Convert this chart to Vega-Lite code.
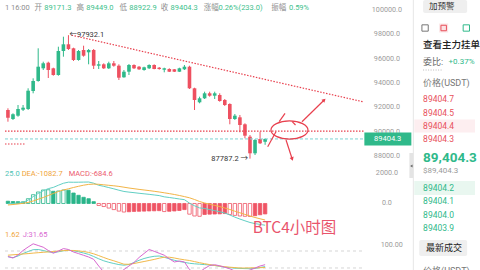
{
"$schema":"https://vega.github.io/schema/vega-lite/v6.json",
"width":480,"height":270,"padding":0,"autosize":{"type":"none"},"background":"#ffffff",
"config":{"view":{"stroke":null},"axis":{"disable":true},"text":{"font":"Roboto, Noto Sans CJK SC, sans-serif"}},
"datasets":{
"k":[
{"i":0,"o":91783,"h":91923,"l":90822,"c":91150,"m":150,"dif":-23,"dea":-98,"kv":60.2,"dv":65.2,"jv":60.2},
{"i":1,"o":91044,"h":91512,"l":90961,"c":91430,"m":130,"dif":-1,"dea":-66,"kv":56.3,"dv":66.6,"jv":55.3},
{"i":2,"o":91315,"h":92194,"l":91232,"c":91865,"m":120,"dif":27,"dea":-33,"kv":62.3,"dv":68.0,"jv":65.9},
{"i":3,"o":91808,"h":92194,"l":91701,"c":91972,"m":110,"dif":68,"dea":13,"kv":71.2,"dv":69.4,"jv":81.8},
{"i":4,"o":91865,"h":93566,"l":91783,"c":93369,"m":315,"dif":223,"dea":66,"kv":78.2,"dv":70.8,"jv":94.1},
{"i":5,"o":93344,"h":94388,"l":93155,"c":94166,"m":577,"dif":452,"dea":164,"kv":84.6,"dv":72.6,"jv":105.4},
{"i":6,"o":94166,"h":96853,"l":94108,"c":95341,"m":754,"dif":659,"dea":282,"kv":85.3,"dv":74.0,"jv":99.4},
{"i":7,"o":95209,"h":95752,"l":95070,"c":95620,"m":885,"dif":835,"dea":393,"kv":81.8,"dv":75.4,"jv":93.4},
{"i":8,"o":95670,"h":95752,"l":94412,"c":95070,"m":900,"dif":975,"dea":525,"kv":77.2,"dv":76.8,"jv":81.8},
{"i":9,"o":95209,"h":95259,"l":94601,"c":94659,"m":800,"dif":1056,"dea":656,"kv":74.3,"dv":78.2,"jv":72.2},
{"i":10,"o":94659,"h":96984,"l":94600,"c":96631,"m":820,"dif":1197,"dea":787,"kv":77.2,"dv":80.0,"jv":80.0},
{"i":11,"o":96631,"h":97806,"l":96163,"c":97182,"m":885,"dif":1327,"dea":885,"kv":80.7,"dv":81.4,"jv":88.5},
{"i":12,"o":97182,"h":97932.1,"l":96713,"c":96795,"m":870,"dif":1399,"dea":964,"kv":82.5,"dv":82.1,"jv":85.3},
{"i":13,"o":96853,"h":96902,"l":95809,"c":95892,"m":688,"dif":1393,"dea":1049,"kv":80.7,"dv":81.8,"jv":76.5},
{"i":14,"o":95892,"h":96713,"l":95834,"c":96631,"m":538,"dif":1397,"dea":1128,"kv":77.2,"dv":80.3,"jv":70.8},
{"i":15,"o":96713,"h":97067,"l":96163,"c":96245,"m":407,"dif":1403,"dea":1200,"kv":72.9,"dv":78.2,"jv":64.8},
{"i":16,"o":96524,"h":96795,"l":95538,"c":96713,"m":315,"dif":1409,"dea":1252,"kv":68.0,"dv":75.0,"jv":58.8},
{"i":17,"o":96713,"h":96795,"l":95152,"c":95423,"m":120,"dif":1332,"dea":1272,"kv":60.6,"dv":70.1,"jv":50.7},
{"i":18,"o":95423,"h":95809,"l":95152,"c":95538,"m":-130,"dif":1194,"dea":1259,"kv":52.5,"dv":63.8,"jv":27.1},
{"i":19,"o":95538,"h":95620,"l":95152,"c":95209,"m":-200,"dif":1126,"dea":1226,"kv":45.4,"dv":57.1,"jv":5.9},
{"i":20,"o":95209,"h":95752,"l":95152,"c":95620,"m":-300,"dif":1043,"dea":1193,"kv":40.1,"dv":50.7,"jv":-4.7},
{"i":21,"o":95620,"h":95809,"l":95341,"c":95423,"m":-400,"dif":961,"dea":1161,"kv":35.9,"dv":45.4,"jv":-8.2},
{"i":22,"o":95423,"h":95538,"l":94248,"c":94437,"m":-500,"dif":871,"dea":1121,"kv":32.0,"dv":39.4,"jv":-1.2},
{"i":23,"o":94470,"h":95070,"l":94437,"c":94930,"m":-560,"dif":789,"dea":1069,"kv":29.9,"dv":33.4,"jv":14.7},
{"i":24,"o":94930,"h":95563,"l":94659,"c":95481,"m":-540,"dif":746,"dea":1016,"kv":32.3,"dv":33.1,"jv":27.1},
{"i":25,"o":95481,"h":95538,"l":95152,"c":95209,"m":-520,"dif":710,"dea":970,"kv":39.4,"dv":35.9,"jv":39.4},
{"i":26,"o":95341,"h":95398,"l":95070,"c":95127,"m":-510,"dif":670,"dea":925,"kv":47.2,"dv":39.4,"jv":57.1},
{"i":27,"o":95070,"h":95341,"l":95012,"c":95292,"m":-500,"dif":635,"dea":885,"kv":53.5,"dv":42.9,"jv":71.2},
{"i":28,"o":95209,"h":95538,"l":95152,"c":95481,"m":-490,"dif":601,"dea":846,"kv":58.1,"dv":46.5,"jv":85.3},
{"i":29,"o":95481,"h":95538,"l":95127,"c":95152,"m":-480,"dif":560,"dea":800,"kv":61.3,"dv":50.3,"jv":78.9},
{"i":30,"o":95259,"h":95316,"l":95094,"c":95152,"m":-470,"dif":519,"dea":754,"kv":62.3,"dv":54.6,"jv":71.9},
{"i":31,"o":95094,"h":95259,"l":94881,"c":95209,"m":-530,"dif":437,"dea":702,"kv":57.8,"dv":58.1,"jv":65.2},
{"i":32,"o":95152,"h":95209,"l":94905,"c":94930,"m":-510,"dif":394,"dea":649,"kv":52.5,"dv":58.1,"jv":52.5},
{"i":33,"o":95127,"h":95152,"l":94905,"c":94930,"m":-490,"dif":345,"dea":590,"kv":47.2,"dv":55.3,"jv":41.2},
{"i":34,"o":94930,"h":95259,"l":94905,"c":95209,"m":-460,"dif":295,"dea":525,"kv":42.9,"dv":51.8,"jv":44.7},
{"i":35,"o":95127,"h":95481,"l":95070,"c":95341,"m":-400,"dif":252,"dea":452,"kv":39.8,"dv":48.9,"jv":41.2},
{"i":36,"o":95341,"h":95423,"l":93509,"c":93566,"m":-700,"dif":24,"dea":374,"kv":36.6,"dv":46.5,"jv":14.7},
{"i":37,"o":93566,"h":93615,"l":91783,"c":92605,"m":-820,"dif":-148,"dea":262,"kv":34.8,"dv":42.6,"jv":2.4},
{"i":38,"o":92416,"h":92876,"l":92333,"c":92745,"m":-840,"dif":-289,"dea":131,"kv":33.4,"dv":38.7,"jv":5.9},
{"i":39,"o":92745,"h":93287,"l":92687,"c":93155,"m":-720,"dif":-327,"dea":33,"kv":32.0,"dv":35.2,"jv":18.2},
{"i":40,"o":93155,"h":93287,"l":92876,"c":92958,"m":-700,"dif":-396,"dea":-46,"kv":30.6,"dv":32.0,"jv":28.8},
{"i":41,"o":92958,"h":93287,"l":92687,"c":93155,"m":-690,"dif":-470,"dea":-125,"kv":28.8,"dv":28.8,"jv":31.6},
{"i":42,"o":93015,"h":93155,"l":92465,"c":92522,"m":-680,"dif":-543,"dea":-203,"kv":26.0,"dv":26.7,"jv":27.8},
{"i":43,"o":92605,"h":92687,"l":92112,"c":92194,"m":-660,"dif":-625,"dea":-295,"kv":22.8,"dv":24.6,"jv":22.5},
{"i":44,"o":92276,"h":92333,"l":90608,"c":91044,"m":-720,"dif":-753,"dea":-393,"kv":21.1,"dv":22.8,"jv":17.2},
{"i":45,"o":91044,"h":91454,"l":90961,"c":91315,"m":-780,"dif":-895,"dea":-505,"kv":19.3,"dv":21.4,"jv":9.4},
{"i":46,"o":91183,"h":91372,"l":89951,"c":90551,"m":-820,"dif":-1020,"dea":-610,"kv":18.6,"dv":20.0,"jv":5.9},
{"i":47,"o":90608,"h":90690,"l":89458,"c":89671,"m":-840,"dif":-1135,"dea":-715,"kv":17.9,"dv":20.0,"jv":7.6},
{"i":48,"o":89589,"h":89729,"l":87787.2,"c":88225,"m":-850,"dif":-1245,"dea":-820,"kv":17.5,"dv":20.4,"jv":12.9},
{"i":49,"o":88225,"h":89400,"l":88085,"c":89318,"m":-800,"dif":-1318,"dea":-918,"kv":18.2,"dv":20.7,"jv":20.0},
{"i":50,"o":89400,"h":90000,"l":88989,"c":89047,"m":-740,"dif":-1373,"dea":-1003,"kv":21.8,"dv":21.1,"jv":27.1},
{"i":51,"o":89171.3,"h":89449,"l":88922.9,"c":89404.3,"m":-684.6,"dif":-1425,"dea":-1082.7,"kv":25.0,"dv":21.62,"jv":31.65}
],
"pt":[{"v":100000},{"v":98000},{"v":96000},{"v":94000},{"v":92000},{"v":90000},{"v":88000}],
"trend":[{"i":12.62,"p":97932.1},{"i":70.6,"p":92440}],
"strokes":[
{"i":58.31,"p":90822,"i2":62.72,"p2":92605,"head":true},
{"i":53.79,"p":90822,"i2":54.95,"p2":91512,"head":false},
{"i":53.15,"p":90000,"i2":51.51,"p2":88767,"head":false},
{"i":55.15,"p":89318,"i2":56.37,"p2":87757,"head":true},
{"i":56.37,"p":90822,"i2":57.03,"p2":90550,"head":false}
]
},
"resolve":{"scale":{"y":"independent"}},
"layer":[
{"layer":[
{"data":{"name":"k"},"mark":{"type":"rule","strokeWidth":1},"encoding":{"x":{"field":"i","type":"quantitative","scale":{"domain":[-0.583,92.621],"nice":false,"zero":false},"axis":null},"y":{"field":"l","type":"quantitative","scale":{"domain":[78636,100822],"nice":false,"zero":false},"axis":null},"y2":{"field":"h"},"color":{"condition":{"test":"datum.c >= datum.o","value":"#2fb98a"},"value":"#ee5060"}}},
{"data":{"name":"k"},"mark":{"type":"bar","width":3.6},"encoding":{"x":{"field":"i","type":"quantitative","scale":{"domain":[-0.583,92.621],"nice":false,"zero":false},"axis":null},"y":{"field":"o","type":"quantitative","scale":{"domain":[78636,100822],"nice":false,"zero":false},"axis":null},"y2":{"field":"c"},"color":{"condition":{"test":"datum.c >= datum.o","value":"#2fb98a"},"value":"#ee5060"}}},
{"data":{"values":[{}]},"mark":{"type":"rule","color":"#e8404e","strokeWidth":1.2,"strokeDash":[1.5,1.5]},"encoding":{"x":{"datum":-0.583,"type":"quantitative","scale":{"domain":[-0.583,92.621],"nice":false,"zero":false},"axis":null},"x2":{"datum":70.68},"y":{"datum":90050,"type":"quantitative","scale":{"domain":[78636,100822],"nice":false,"zero":false},"axis":null}}},
{"data":{"values":[{}]},"mark":{"type":"rule","color":"#e8404e","strokeWidth":1.2,"strokeDash":[1.5,1.5]},"encoding":{"x":{"datum":-0.583,"type":"quantitative","scale":{"domain":[-0.583,92.621],"nice":false,"zero":false},"axis":null},"x2":{"datum":3.3},"y":{"datum":88989,"type":"quantitative","scale":{"domain":[78636,100822],"nice":false,"zero":false},"axis":null}}},
{"data":{"name":"trend"},"mark":{"type":"line","color":"#e8404e","strokeWidth":1.2,"strokeDash":[1.5,1.5]},"encoding":{"x":{"field":"i","type":"quantitative","scale":{"domain":[-0.583,92.621],"nice":false,"zero":false},"axis":null},"y":{"field":"p","type":"quantitative","scale":{"domain":[78636,100822],"nice":false,"zero":false},"axis":null}}},
{"data":{"values":[{}]},"mark":{"type":"rule","color":"#7ed3d3","strokeWidth":1,"strokeDash":[3,2]},"encoding":{"x":{"datum":-0.583,"type":"quantitative","scale":{"domain":[-0.583,92.621],"nice":false,"zero":false},"axis":null},"x2":{"datum":70.68},"y":{"datum":89404.3,"type":"quantitative","scale":{"domain":[78636,100822],"nice":false,"zero":false},"axis":null}}},
{"data":{"name":"pt"},"mark":{"type":"text","align":"center","baseline":"middle","fontSize":7.2,"color":"#9b9b9b"},"encoding":{"x":{"datum":75.15,"type":"quantitative","scale":{"domain":[-0.583,92.621],"nice":false,"zero":false},"axis":null},"y":{"field":"v","type":"quantitative","scale":{"domain":[78636,100822],"nice":false,"zero":false},"axis":null},"text":{"field":"v","format":".1f"}}},
{"data":{"name":"k"},"transform":[{"filter":"datum.i == 51"}],"mark":{"type":"rule","strokeWidth":13,"strokeCap":"butt","color":"#2fb98a"},"encoding":{"x":{"datum":70.68,"type":"quantitative","scale":{"domain":[-0.583,92.621],"nice":false,"zero":false},"axis":null},"x2":{"datum":80.0},"y":{"field":"c","type":"quantitative","scale":{"domain":[78636,100822],"nice":false,"zero":false},"axis":null}}},
{"data":{"name":"k"},"transform":[{"filter":"datum.i == 51"}],"mark":{"type":"text","align":"center","baseline":"middle","fontSize":7.5,"color":"#ffffff"},"encoding":{"x":{"datum":75.3,"type":"quantitative","scale":{"domain":[-0.583,92.621],"nice":false,"zero":false},"axis":null},"y":{"field":"c","type":"quantitative","scale":{"domain":[78636,100822],"nice":false,"zero":false},"axis":null},"text":{"field":"c","format":".1f"}}},
{"data":{"name":"k"},"transform":[{"joinaggregate":[{"op":"max","field":"h","as":"hm"}]},{"filter":"datum.h == datum.hm"},{"calculate":"'←' + format(datum.h, '.1f')","as":"lab"}],"mark":{"type":"text","align":"left","baseline":"middle","dx":1,"fontSize":7.5,"color":"#333333"},"encoding":{"x":{"field":"i","type":"quantitative","scale":{"domain":[-0.583,92.621],"nice":false,"zero":false},"axis":null},"y":{"field":"h","type":"quantitative","scale":{"domain":[78636,100822],"nice":false,"zero":false},"axis":null},"text":{"field":"lab"}}},
{"data":{"name":"k"},"transform":[{"joinaggregate":[{"op":"min","field":"l","as":"lm"}]},{"filter":"datum.l == datum.lm"},{"calculate":"format(datum.l, '.1f') + ' →'","as":"lab"}],"mark":{"type":"text","align":"right","baseline":"middle","dx":-2,"fontSize":7.5,"color":"#333333"},"encoding":{"x":{"field":"i","type":"quantitative","scale":{"domain":[-0.583,92.621],"nice":false,"zero":false},"axis":null},"y":{"field":"l","type":"quantitative","scale":{"domain":[78636,100822],"nice":false,"zero":false},"axis":null},"text":{"field":"lab"}}},
{"data":{"name":"strokes"},"mark":{"type":"rule","color":"#e8404e","strokeWidth":1.2},"encoding":{"x":{"field":"i","type":"quantitative","scale":{"domain":[-0.583,92.621],"nice":false,"zero":false},"axis":null},"y":{"field":"p","type":"quantitative","scale":{"domain":[78636,100822],"nice":false,"zero":false},"axis":null},"x2":{"field":"i2"},"y2":{"field":"p2"}}},
{"data":{"name":"strokes"},"transform":[{"filter":"datum.head"},{"calculate":"atan2((datum.i2-datum.i)*5.15, (datum.p2-datum.p)/82.17)*180/PI","as":"ang"}],"mark":{"type":"point","shape":"triangle-up","filled":true,"size":18,"color":"#e8404e","opacity":1},"encoding":{"x":{"field":"i2","type":"quantitative","scale":{"domain":[-0.583,92.621],"nice":false,"zero":false},"axis":null},"y":{"field":"p2","type":"quantitative","scale":{"domain":[78636,100822],"nice":false,"zero":false},"axis":null},"angle":{"field":"ang","type":"quantitative","scale":null}}},
{"data":{"values":[{}]},"mark":{"type":"point","shape":"M-1,0A1,0.49,0,1,0,1,0A1,0.49,0,1,0,-1,0Z","size":1369,"filled":false,"stroke":"#e8404e","strokeWidth":1.2,"opacity":1},"encoding":{"x":{"datum":55.83,"type":"quantitative","scale":{"domain":[-0.583,92.621],"nice":false,"zero":false},"axis":null},"y":{"datum":90140,"type":"quantitative","scale":{"domain":[78636,100822],"nice":false,"zero":false},"axis":null}}},
{"data":{"values":[{}]},"mark":{"type":"text","align":"left","baseline":"middle","fontSize":7.5,"color":"#8e8e8e"},"encoding":{"x":{"datum":-0.583,"type":"quantitative","scale":{"domain":[-0.583,92.621],"nice":false,"zero":false},"axis":null},"y":{"datum":100164,"type":"quantitative","scale":{"domain":[78636,100822],"nice":false,"zero":false},"axis":null},"text":{"value":"1 16:00"}}},
{"data":{"values":[{}]},"mark":{"type":"text","align":"left","baseline":"middle","fontSize":7.5,"color":"#8e8e8e"},"encoding":{"x":{"datum":5.243,"type":"quantitative","scale":{"domain":[-0.583,92.621],"nice":false,"zero":false},"axis":null},"y":{"datum":100164,"type":"quantitative","scale":{"domain":[78636,100822],"nice":false,"zero":false},"axis":null},"text":{"value":"开"}}},
{"data":{"values":[{}]},"mark":{"type":"text","align":"left","baseline":"middle","fontSize":7.5,"color":"#3dbf8c"},"encoding":{"x":{"datum":7.184,"type":"quantitative","scale":{"domain":[-0.583,92.621],"nice":false,"zero":false},"axis":null},"y":{"datum":100164,"type":"quantitative","scale":{"domain":[78636,100822],"nice":false,"zero":false},"axis":null},"text":{"value":"89171.3"}}},
{"data":{"values":[{}]},"mark":{"type":"text","align":"left","baseline":"middle","fontSize":7.5,"color":"#8e8e8e"},"encoding":{"x":{"datum":13.592,"type":"quantitative","scale":{"domain":[-0.583,92.621],"nice":false,"zero":false},"axis":null},"y":{"datum":100164,"type":"quantitative","scale":{"domain":[78636,100822],"nice":false,"zero":false},"axis":null},"text":{"value":"高"}}},
{"data":{"values":[{}]},"mark":{"type":"text","align":"left","baseline":"middle","fontSize":7.5,"color":"#3dbf8c"},"encoding":{"x":{"datum":15.534,"type":"quantitative","scale":{"domain":[-0.583,92.621],"nice":false,"zero":false},"axis":null},"y":{"datum":100164,"type":"quantitative","scale":{"domain":[78636,100822],"nice":false,"zero":false},"axis":null},"text":{"value":"89449.0"}}},
{"data":{"values":[{}]},"mark":{"type":"text","align":"left","baseline":"middle","fontSize":7.5,"color":"#8e8e8e"},"encoding":{"x":{"datum":22.136,"type":"quantitative","scale":{"domain":[-0.583,92.621],"nice":false,"zero":false},"axis":null},"y":{"datum":100164,"type":"quantitative","scale":{"domain":[78636,100822],"nice":false,"zero":false},"axis":null},"text":{"value":"低"}}},
{"data":{"values":[{}]},"mark":{"type":"text","align":"left","baseline":"middle","fontSize":7.5,"color":"#3dbf8c"},"encoding":{"x":{"datum":24.078,"type":"quantitative","scale":{"domain":[-0.583,92.621],"nice":false,"zero":false},"axis":null},"y":{"datum":100164,"type":"quantitative","scale":{"domain":[78636,100822],"nice":false,"zero":false},"axis":null},"text":{"value":"88922.9"}}},
{"data":{"values":[{}]},"mark":{"type":"text","align":"left","baseline":"middle","fontSize":7.5,"color":"#8e8e8e"},"encoding":{"x":{"datum":30.291,"type":"quantitative","scale":{"domain":[-0.583,92.621],"nice":false,"zero":false},"axis":null},"y":{"datum":100164,"type":"quantitative","scale":{"domain":[78636,100822],"nice":false,"zero":false},"axis":null},"text":{"value":"收"}}},
{"data":{"values":[{}]},"mark":{"type":"text","align":"left","baseline":"middle","fontSize":7.5,"color":"#3dbf8c"},"encoding":{"x":{"datum":32.233,"type":"quantitative","scale":{"domain":[-0.583,92.621],"nice":false,"zero":false},"axis":null},"y":{"datum":100164,"type":"quantitative","scale":{"domain":[78636,100822],"nice":false,"zero":false},"axis":null},"text":{"value":"89404.3"}}},
{"data":{"values":[{}]},"mark":{"type":"text","align":"left","baseline":"middle","fontSize":7.5,"color":"#8e8e8e"},"encoding":{"x":{"datum":38.835,"type":"quantitative","scale":{"domain":[-0.583,92.621],"nice":false,"zero":false},"axis":null},"y":{"datum":100164,"type":"quantitative","scale":{"domain":[78636,100822],"nice":false,"zero":false},"axis":null},"text":{"value":"涨幅"}}},
{"data":{"values":[{}]},"mark":{"type":"text","align":"left","baseline":"middle","fontSize":7.5,"color":"#3dbf8c"},"encoding":{"x":{"datum":41.748,"type":"quantitative","scale":{"domain":[-0.583,92.621],"nice":false,"zero":false},"axis":null},"y":{"datum":100164,"type":"quantitative","scale":{"domain":[78636,100822],"nice":false,"zero":false},"axis":null},"text":{"value":"0.26%(233.0)"}}},
{"data":{"values":[{}]},"mark":{"type":"text","align":"left","baseline":"middle","fontSize":7.5,"color":"#8e8e8e"},"encoding":{"x":{"datum":52.233,"type":"quantitative","scale":{"domain":[-0.583,92.621],"nice":false,"zero":false},"axis":null},"y":{"datum":100164,"type":"quantitative","scale":{"domain":[78636,100822],"nice":false,"zero":false},"axis":null},"text":{"value":"振幅"}}},
{"data":{"values":[{}]},"mark":{"type":"text","align":"left","baseline":"middle","fontSize":7.5,"color":"#3dbf8c"},"encoding":{"x":{"datum":55.728,"type":"quantitative","scale":{"domain":[-0.583,92.621],"nice":false,"zero":false},"axis":null},"y":{"datum":100164,"type":"quantitative","scale":{"domain":[78636,100822],"nice":false,"zero":false},"axis":null},"text":{"value":"0.59%"}}},
{"data":{"values":[{}]},"mark":{"type":"rule","color":"#e6e6e6","strokeWidth":1},"encoding":{"x":{"datum":80.388,"type":"quantitative","scale":{"domain":[-0.583,92.621],"nice":false,"zero":false},"axis":null},"y":{"datum":100822,"type":"quantitative","scale":{"domain":[78636,100822],"nice":false,"zero":false},"axis":null},"y2":{"datum":78636}}},
{"data":{"values":[{}]},"mark":{"type":"rect","color":"#e4e4e4"},"encoding":{"x":{"datum":79.61,"type":"quantitative","scale":{"domain":[-0.583,92.621],"nice":false,"zero":false},"axis":null},"x2":{"datum":80.388},"y":{"datum":88250,"type":"quantitative","scale":{"domain":[78636,100822],"nice":false,"zero":false},"axis":null},"y2":{"datum":86195}}},
{"data":{"values":[{}]},"mark":{"type":"point","shape":"triangle-left","filled":true,"size":8,"color":"#666666","opacity":1},"encoding":{"x":{"datum":80.0,"type":"quantitative","scale":{"domain":[-0.583,92.621],"nice":false,"zero":false},"axis":null},"y":{"datum":87182,"type":"quantitative","scale":{"domain":[78636,100822],"nice":false,"zero":false},"axis":null}}},
{"data":{"values":[{}]},"mark":{"type":"rect","color":"#efefef","cornerRadius":2},"encoding":{"x":{"datum":82.33,"type":"quantitative","scale":{"domain":[-0.583,92.621],"nice":false,"zero":false},"axis":null},"x2":{"datum":91.068},"y":{"datum":100822,"type":"quantitative","scale":{"domain":[78636,100822],"nice":false,"zero":false},"axis":null},"y2":{"datum":99753}}},
{"data":{"values":[{}]},"mark":{"type":"text","align":"center","baseline":"middle","fontSize":8.5,"color":"#333333"},"encoding":{"x":{"datum":86.02,"type":"quantitative","scale":{"domain":[-0.583,92.621],"nice":false,"zero":false},"axis":null},"y":{"datum":100329,"type":"quantitative","scale":{"domain":[78636,100822],"nice":false,"zero":false},"axis":null},"text":{"value":"加预警"}}},
{"data":{"values":[{}]},"mark":{"type":"point","shape":"square","filled":false,"size":40,"stroke":"#777777","strokeWidth":1,"opacity":1},"encoding":{"x":{"datum":82.72,"type":"quantitative","scale":{"domain":[-0.583,92.621],"nice":false,"zero":false},"axis":null},"y":{"datum":98521,"type":"quantitative","scale":{"domain":[78636,100822],"nice":false,"zero":false},"axis":null}}},
{"data":{"values":[{}]},"mark":{"type":"point","shape":"square","filled":true,"size":80,"color":"#fbe3e5","opacity":1},"encoding":{"x":{"datum":86.41,"type":"quantitative","scale":{"domain":[-0.583,92.621],"nice":false,"zero":false},"axis":null},"y":{"datum":98521,"type":"quantitative","scale":{"domain":[78636,100822],"nice":false,"zero":false},"axis":null}}},
{"data":{"values":[{}]},"mark":{"type":"point","shape":"square","filled":false,"size":30,"stroke":"#e8505b","strokeWidth":1,"opacity":1},"encoding":{"x":{"datum":86.41,"type":"quantitative","scale":{"domain":[-0.583,92.621],"nice":false,"zero":false},"axis":null},"y":{"datum":98521,"type":"quantitative","scale":{"domain":[78636,100822],"nice":false,"zero":false},"axis":null}}},
{"data":{"values":[{}]},"mark":{"type":"point","shape":"square","filled":false,"size":40,"stroke":"#2fb98a","strokeWidth":1,"opacity":1},"encoding":{"x":{"datum":90.9,"type":"quantitative","scale":{"domain":[-0.583,92.621],"nice":false,"zero":false},"axis":null},"y":{"datum":98521,"type":"quantitative","scale":{"domain":[78636,100822],"nice":false,"zero":false},"axis":null}}},
{"data":{"values":[{}]},"mark":{"type":"text","align":"left","baseline":"middle","fontSize":9.5,"fontWeight":500,"color":"#222222"},"encoding":{"x":{"datum":82.33,"type":"quantitative","scale":{"domain":[-0.583,92.621],"nice":false,"zero":false},"axis":null},"y":{"datum":97124,"type":"quantitative","scale":{"domain":[78636,100822],"nice":false,"zero":false},"axis":null},"text":{"value":"查看主力挂单"}}},
{"data":{"values":[{}]},"mark":{"type":"text","align":"left","baseline":"middle","fontSize":9,"color":"#666666"},"encoding":{"x":{"datum":82.33,"type":"quantitative","scale":{"domain":[-0.583,92.621],"nice":false,"zero":false},"axis":null},"y":{"datum":95727,"type":"quantitative","scale":{"domain":[78636,100822],"nice":false,"zero":false},"axis":null},"text":{"value":"委比:"}}},
{"data":{"values":[{}]},"mark":{"type":"text","align":"left","baseline":"middle","fontSize":8,"color":"#2fb98a"},"encoding":{"x":{"datum":87.38,"type":"quantitative","scale":{"domain":[-0.583,92.621],"nice":false,"zero":false},"axis":null},"y":{"datum":95727,"type":"quantitative","scale":{"domain":[78636,100822],"nice":false,"zero":false},"axis":null},"text":{"value":"+0.37%"}}},
{"data":{"values":[{}]},"mark":{"type":"rule","color":"#aaaaaa","strokeWidth":0.8,"strokeDash":[1,1.5]},"encoding":{"x":{"datum":82.33,"type":"quantitative","scale":{"domain":[-0.583,92.621],"nice":false,"zero":false},"axis":null},"x2":{"datum":86.3},"y":{"datum":95070,"type":"quantitative","scale":{"domain":[78636,100822],"nice":false,"zero":false},"axis":null}}},
{"data":{"values":[{}]},"mark":{"type":"text","align":"left","baseline":"middle","fontSize":9,"color":"#777777"},"encoding":{"x":{"datum":82.33,"type":"quantitative","scale":{"domain":[-0.583,92.621],"nice":false,"zero":false},"axis":null},"y":{"datum":94002,"type":"quantitative","scale":{"domain":[78636,100822],"nice":false,"zero":false},"axis":null},"text":{"value":"价格(USDT)"}}},
{"data":{"values":[{}]},"mark":{"type":"rect","color":"#fdeef0"},"encoding":{"x":{"datum":80.583,"type":"quantitative","scale":{"domain":[-0.583,92.621],"nice":false,"zero":false},"axis":null},"x2":{"datum":92.621},"y":{"datum":91003,"type":"quantitative","scale":{"domain":[78636,100822],"nice":false,"zero":false},"axis":null},"y2":{"datum":89934}}},
{"data":{"values":[{}]},"mark":{"type":"text","align":"left","baseline":"middle","fontSize":8.5,"color":"#e8505b"},"encoding":{"x":{"datum":82.33,"type":"quantitative","scale":{"domain":[-0.583,92.621],"nice":false,"zero":false},"axis":null},"y":{"datum":92687,"type":"quantitative","scale":{"domain":[78636,100822],"nice":false,"zero":false},"axis":null},"text":{"value":"89404.7"}}},
{"data":{"values":[{}]},"mark":{"type":"text","align":"left","baseline":"middle","fontSize":8.5,"color":"#e8505b"},"encoding":{"x":{"datum":82.33,"type":"quantitative","scale":{"domain":[-0.583,92.621],"nice":false,"zero":false},"axis":null},"y":{"datum":91537,"type":"quantitative","scale":{"domain":[78636,100822],"nice":false,"zero":false},"axis":null},"text":{"value":"89404.5"}}},
{"data":{"values":[{}]},"mark":{"type":"text","align":"left","baseline":"middle","fontSize":8.5,"color":"#e8505b"},"encoding":{"x":{"datum":82.33,"type":"quantitative","scale":{"domain":[-0.583,92.621],"nice":false,"zero":false},"axis":null},"y":{"datum":90468,"type":"quantitative","scale":{"domain":[78636,100822],"nice":false,"zero":false},"axis":null},"text":{"value":"89404.4"}}},
{"data":{"values":[{}]},"mark":{"type":"text","align":"left","baseline":"middle","fontSize":8.5,"color":"#e8505b"},"encoding":{"x":{"datum":82.33,"type":"quantitative","scale":{"domain":[-0.583,92.621],"nice":false,"zero":false},"axis":null},"y":{"datum":89400,"type":"quantitative","scale":{"domain":[78636,100822],"nice":false,"zero":false},"axis":null},"text":{"value":"89404.3"}}},
{"data":{"values":[{}]},"mark":{"type":"text","align":"left","baseline":"middle","fontSize":13.5,"fontWeight":"bold","color":"#2fb98a"},"encoding":{"x":{"datum":82.33,"type":"quantitative","scale":{"domain":[-0.583,92.621],"nice":false,"zero":false},"axis":null},"y":{"datum":87839,"type":"quantitative","scale":{"domain":[78636,100822],"nice":false,"zero":false},"axis":null},"text":{"value":"89,404.3"}}},
{"data":{"values":[{}]},"mark":{"type":"text","align":"left","baseline":"middle","fontSize":8,"color":"#9a9a9a"},"encoding":{"x":{"datum":82.33,"type":"quantitative","scale":{"domain":[-0.583,92.621],"nice":false,"zero":false},"axis":null},"y":{"datum":86771,"type":"quantitative","scale":{"domain":[78636,100822],"nice":false,"zero":false},"axis":null},"text":{"value":"$89,404.3"}}},
{"data":{"values":[{}]},"mark":{"type":"rect","color":"#e9f7f0"},"encoding":{"x":{"datum":80.583,"type":"quantitative","scale":{"domain":[-0.583,92.621],"nice":false,"zero":false},"axis":null},"x2":{"datum":92.621},"y":{"datum":85949,"type":"quantitative","scale":{"domain":[78636,100822],"nice":false,"zero":false},"axis":null},"y2":{"datum":84799}}},
{"data":{"values":[{}]},"mark":{"type":"text","align":"left","baseline":"middle","fontSize":8.5,"color":"#2fb98a"},"encoding":{"x":{"datum":82.33,"type":"quantitative","scale":{"domain":[-0.583,92.621],"nice":false,"zero":false},"axis":null},"y":{"datum":85374,"type":"quantitative","scale":{"domain":[78636,100822],"nice":false,"zero":false},"axis":null},"text":{"value":"89404.2"}}},
{"data":{"values":[{}]},"mark":{"type":"text","align":"left","baseline":"middle","fontSize":8.5,"color":"#2fb98a"},"encoding":{"x":{"datum":82.33,"type":"quantitative","scale":{"domain":[-0.583,92.621],"nice":false,"zero":false},"axis":null},"y":{"datum":84305,"type":"quantitative","scale":{"domain":[78636,100822],"nice":false,"zero":false},"axis":null},"text":{"value":"89404.1"}}},
{"data":{"values":[{}]},"mark":{"type":"text","align":"left","baseline":"middle","fontSize":8.5,"color":"#2fb98a"},"encoding":{"x":{"datum":82.33,"type":"quantitative","scale":{"domain":[-0.583,92.621],"nice":false,"zero":false},"axis":null},"y":{"datum":83155,"type":"quantitative","scale":{"domain":[78636,100822],"nice":false,"zero":false},"axis":null},"text":{"value":"89404.0"}}},
{"data":{"values":[{}]},"mark":{"type":"text","align":"left","baseline":"middle","fontSize":8.5,"color":"#2fb98a"},"encoding":{"x":{"datum":82.33,"type":"quantitative","scale":{"domain":[-0.583,92.621],"nice":false,"zero":false},"axis":null},"y":{"datum":82087,"type":"quantitative","scale":{"domain":[78636,100822],"nice":false,"zero":false},"axis":null},"text":{"value":"89403.9"}}},
{"data":{"values":[{}]},"mark":{"type":"rect","color":"#efefef","cornerRadius":2},"encoding":{"x":{"datum":81.553,"type":"quantitative","scale":{"domain":[-0.583,92.621],"nice":false,"zero":false},"axis":null},"x2":{"datum":91.068},"y":{"datum":81101,"type":"quantitative","scale":{"domain":[78636,100822],"nice":false,"zero":false},"axis":null},"y2":{"datum":79786}}},
{"data":{"values":[{}]},"mark":{"type":"text","align":"left","baseline":"middle","fontSize":9,"color":"#222222"},"encoding":{"x":{"datum":82.91,"type":"quantitative","scale":{"domain":[-0.583,92.621],"nice":false,"zero":false},"axis":null},"y":{"datum":80443,"type":"quantitative","scale":{"domain":[78636,100822],"nice":false,"zero":false},"axis":null},"text":{"value":"最新成交"}}},
{"data":{"values":[{}]},"mark":{"type":"text","align":"left","baseline":"middle","fontSize":9,"color":"#777777"},"encoding":{"x":{"datum":82.33,"type":"quantitative","scale":{"domain":[-0.583,92.621],"nice":false,"zero":false},"axis":null},"y":{"datum":78513,"type":"quantitative","scale":{"domain":[78636,100822],"nice":false,"zero":false},"axis":null},"text":{"value":"价格(USDT)"}}}
]},
{"layer":[
{"data":{"name":"k"},"transform":[{"window":[{"op":"lag","field":"m","as":"prev"}],"sort":[{"field":"i"}]},{"calculate":"datum.prev != null && abs(datum.m) > abs(datum.prev)","as":"hollow"}],"mark":{"type":"bar","width":3.4,"strokeWidth":0.8},"encoding":{"x":{"field":"i","type":"quantitative","scale":{"domain":[-0.583,92.621],"nice":false,"zero":false},"axis":null},"y":{"field":"m","type":"quantitative","scale":{"domain":[-4361,13344],"nice":false,"zero":false},"axis":null},"y2":{"datum":0},"fill":{"condition":[{"test":"datum.hollow","value":"#ffffff"},{"test":"datum.m >= 0","value":"#2ab58a"}],"value":"#ef5464"},"stroke":{"condition":{"test":"datum.m >= 0","value":"#2ab58a"},"value":"#ef5464"}}},
{"data":{"name":"k"},"mark":{"type":"line","color":"#62cfc4","strokeWidth":1},"encoding":{"x":{"field":"i","type":"quantitative","scale":{"domain":[-0.583,92.621],"nice":false,"zero":false},"axis":null},"y":{"field":"dif","type":"quantitative","scale":{"domain":[-4361,13344],"nice":false,"zero":false},"axis":null}}},
{"data":{"name":"k"},"mark":{"type":"line","color":"#f2b446","strokeWidth":1},"encoding":{"x":{"field":"i","type":"quantitative","scale":{"domain":[-0.583,92.621],"nice":false,"zero":false},"axis":null},"y":{"field":"dea","type":"quantitative","scale":{"domain":[-4361,13344],"nice":false,"zero":false},"axis":null}}},
{"data":{"values":[{"v":2000},{"v":0}]},"mark":{"type":"text","align":"center","baseline":"middle","fontSize":7.2,"color":"#9b9b9b"},"encoding":{"x":{"datum":75.15,"type":"quantitative","scale":{"domain":[-0.583,92.621],"nice":false,"zero":false},"axis":null},"y":{"field":"v","type":"quantitative","scale":{"domain":[-4361,13344],"nice":false,"zero":false},"axis":null},"text":{"field":"v","format":".1f"}}},
{"data":{"values":[{}]},"mark":{"type":"text","align":"left","baseline":"middle","fontSize":7.5,"color":"#4fc3b5"},"encoding":{"x":{"datum":-0.583,"type":"quantitative","scale":{"domain":[-0.583,92.621],"nice":false,"zero":false},"axis":null},"y":{"datum":1934,"type":"quantitative","scale":{"domain":[-4361,13344],"nice":false,"zero":false},"axis":null},"text":{"value":"25.0"}}},
{"data":{"values":[{}]},"mark":{"type":"text","align":"left","baseline":"middle","fontSize":7.5,"color":"#f0a53a"},"encoding":{"x":{"datum":2.718,"type":"quantitative","scale":{"domain":[-0.583,92.621],"nice":false,"zero":false},"axis":null},"y":{"datum":1934,"type":"quantitative","scale":{"domain":[-4361,13344],"nice":false,"zero":false},"axis":null},"text":{"value":"DEA:-1082.7"}}},
{"data":{"values":[{}]},"mark":{"type":"text","align":"left","baseline":"middle","fontSize":7.5,"color":"#ec5b6e"},"encoding":{"x":{"datum":12.04,"type":"quantitative","scale":{"domain":[-0.583,92.621],"nice":false,"zero":false},"axis":null},"y":{"datum":1934,"type":"quantitative","scale":{"domain":[-4361,13344],"nice":false,"zero":false},"axis":null},"text":{"value":"MACD:-684.6"}}},
{"data":{"values":[{}]},"mark":{"type":"text","align":"left","baseline":"middle","fontSize":15.5,"font":"Noto Sans CJK SC","color":"#e9546c"},"encoding":{"x":{"datum":48.54,"type":"quantitative","scale":{"domain":[-0.583,92.621],"nice":false,"zero":false},"axis":null},"y":{"datum":-1606,"type":"quantitative","scale":{"domain":[-4361,13344],"nice":false,"zero":false},"axis":null},"text":{"value":"BTC4小时图"}}}
]},
{"layer":[
{"data":{"values":[{"v":80},{"v":20}]},"mark":{"type":"rule","color":"#d5d5d5","strokeWidth":1,"strokeDash":[3,3]},"encoding":{"x":{"datum":-0.583,"type":"quantitative","scale":{"domain":[-0.583,92.621],"nice":false,"zero":false},"axis":null},"x2":{"datum":70.68},"y":{"field":"v","type":"quantitative","scale":{"domain":[12.94,965.9],"nice":false,"zero":false},"axis":null}}},
{"data":{"name":"k"},"mark":{"type":"line","color":"#62cfc4","strokeWidth":1},"encoding":{"x":{"field":"i","type":"quantitative","scale":{"domain":[-0.583,92.621],"nice":false,"zero":false},"axis":null},"y":{"field":"kv","type":"quantitative","scale":{"domain":[12.94,965.9],"nice":false,"zero":false},"axis":null}}},
{"data":{"name":"k"},"mark":{"type":"line","color":"#f2b94a","strokeWidth":1},"encoding":{"x":{"field":"i","type":"quantitative","scale":{"domain":[-0.583,92.621],"nice":false,"zero":false},"axis":null},"y":{"field":"dv","type":"quantitative","scale":{"domain":[12.94,965.9],"nice":false,"zero":false},"axis":null}}},
{"data":{"name":"k"},"mark":{"type":"line","color":"#d868d0","strokeWidth":1},"encoding":{"x":{"field":"i","type":"quantitative","scale":{"domain":[-0.583,92.621],"nice":false,"zero":false},"axis":null},"y":{"field":"jv","type":"quantitative","scale":{"domain":[12.94,965.9],"nice":false,"zero":false},"axis":null}}},
{"data":{"values":[{"v":100}]},"mark":{"type":"text","align":"center","baseline":"middle","fontSize":7.2,"color":"#9b9b9b"},"encoding":{"x":{"datum":76.1,"type":"quantitative","scale":{"domain":[-0.583,92.621],"nice":false,"zero":false},"axis":null},"y":{"field":"v","type":"quantitative","scale":{"domain":[12.94,965.9],"nice":false,"zero":false},"axis":null},"text":{"field":"v","format":".2f"}}},
{"data":{"values":[{}]},"mark":{"type":"text","align":"left","baseline":"middle","fontSize":7.5,"color":"#f0a53a"},"encoding":{"x":{"datum":-0.583,"type":"quantitative","scale":{"domain":[-0.583,92.621],"nice":false,"zero":false},"axis":null},"y":{"datum":136.5,"type":"quantitative","scale":{"domain":[12.94,965.9],"nice":false,"zero":false},"axis":null},"text":{"value":"1.62"}}},
{"data":{"values":[{}]},"mark":{"type":"text","align":"left","baseline":"middle","fontSize":7.5,"color":"#d868d0"},"encoding":{"x":{"datum":2.913,"type":"quantitative","scale":{"domain":[-0.583,92.621],"nice":false,"zero":false},"axis":null},"y":{"datum":136.5,"type":"quantitative","scale":{"domain":[12.94,965.9],"nice":false,"zero":false},"axis":null},"text":{"value":"J:31.65"}}}
]}
]
}
